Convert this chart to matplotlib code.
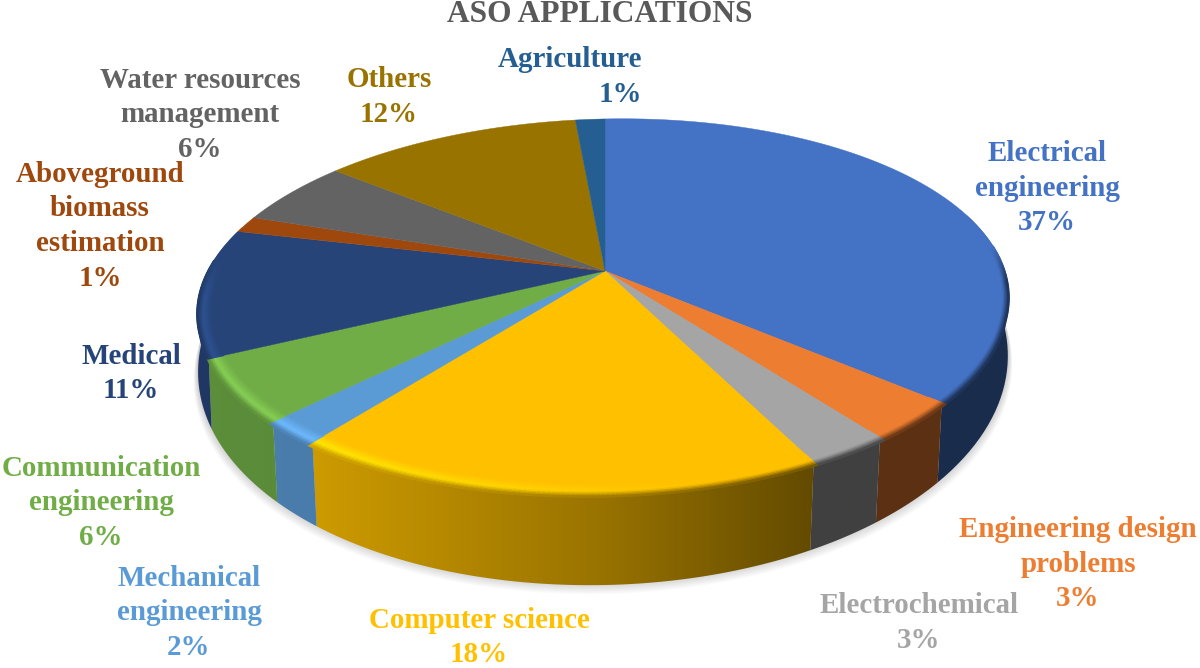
import numpy as np
import matplotlib
matplotlib.use("Agg")
import matplotlib.pyplot as plt
from matplotlib.collections import PolyCollection
from matplotlib.colors import to_rgb
from matplotlib.patches import Polygon

# slices, clockwise from 12 o'clock
categories = ["Electrical engineering", "Engineering design problems", "Electrochemical",
              "Computer science", "Mechanical engineering", "Communication engineering",
              "Medical", "Aboveground biomass estimation", "Water resources management",
              "Others", "Agriculture"]
values = [36.7, 3.3, 2.8, 17.9, 2.1, 5.5, 11.1, 1.4, 5.6, 12.2, 1.4]
colors = ["#4472C4", "#ED7D31", "#A5A5A5", "#FFC000", "#5B9BD5", "#70AD47",
          "#264478", "#9E480E", "#636363", "#997300", "#255E91"]

# label text broken in lines, with centre x and first line y in pixels
label_lines = [["Electrical", "engineering"], ["Engineering design", "problems"], ["Electrochemical"],
               ["Computer science"], ["Mechanical", "engineering"], ["Communication", "engineering"],
               ["Medical"], ["Aboveground", "biomass", "estimation"], ["Water resources", "management"],
               ["Others"], ["Agriculture"]]
label_x = [1047, 1078, 919, 479, 189, 101, 131, 100, 200, 389, 642]
label_y = [153.5, 529.5, 605.5, 620, 578.5, 468.5, 356.5, 174.5, 80.5, 79.5, 59.5]

# view of the disc
cx, cy = 605, 271
a_left, a_right, b, k, s = 401, 397, 180.5, 0.187, 8
depth0, depth1 = 55, 37


def project(r, ang):
    u = r * np.sin(ang)
    v = r * np.cos(ang)
    w = 1 + k * v
    return cx + np.where(u < 0, a_left, a_right) * u / w, cy + (-b * v - s * u) / w


def project_bottom(ang):
    x, y = project(1.0, ang)
    v = np.cos(ang)
    x = cx + (x - cx) * (1 + 0.018 * np.minimum(v, 0))
    return x, y + depth0 - depth1 * v


def side_shade(x):
    return np.interp(x, [200, 320, 600, 810, 1010], [0.82, 0.8, 0.6, 0.39, 0.39])


def rim_colour(top, x, t, v):
    side = top * side_shade(x)
    bright = np.clip((720 - x) / 400, 0, 1)
    high = top + (np.minimum(top * 1.2, 1) - top) * bright
    if t < 0.6:
        c = top + (high - top) * t / 0.6
    else:
        c = high + (side - high) * (t - 0.6) / 0.4
    strength = np.clip((0.1 - v) / 0.2, 0, 1)
    return top + (c - top) * strength


def rim_radius(t, ang):
    # band sits across the top edge at the front, and closes at the sides
    front = np.clip((-np.cos(ang) - 0.3) / 0.5, 0, 1)
    return (0.965 + 0.035 * t) + 0.015 * t * front


def main():
    fig = plt.figure(figsize=(12, 6.68), dpi=100)
    ax = fig.add_axes([0, 0, 1, 1])

    edges = np.cumsum([0] + values) / sum(values) * 2 * np.pi

    # soft shadow under the front edge
    front = np.linspace(np.pi * 0.42, np.pi * 1.58, 200)
    bx, by = project_bottom(front)
    for o in range(1, 15):
        ax.fill(cx + (bx - cx) * (1 + o * 0.0008), by + o - 5, color="k", alpha=0.014, lw=0, zorder=1)

    # side wall, shaded from left to right
    gx = np.linspace(190, 1020, 400)
    for i, c in enumerate(colors):
        top = np.array(to_rgb(c))
        angs = np.linspace(edges[i], edges[i + 1], 80)
        angs = angs[np.cos(angs) < 0.3]
        if len(angs) < 2:
            continue
        tx, ty = project(1.0, angs)
        bx, by = project_bottom(angs)
        poly = Polygon(np.c_[np.r_[tx, bx[::-1]], np.r_[ty, by[::-1]]], closed=True, transform=ax.transData)
        shade = np.array([top * side_shade(x) for x in gx])[None, :, :]
        im = ax.imshow(shade, extent=(190, 1020, 600, 200), aspect="auto", interpolation="bilinear", zorder=2)
        im.set_clip_path(poly)

    # top face
    for i, c in enumerate(colors):
        angs = np.linspace(edges[i], edges[i + 1], 80)
        x, y = project(1.0, angs)
        ax.fill(np.r_[cx, x], np.r_[cy, y], color=c, lw=0.3, zorder=3)

    # bevel along the rim
    quads, cols = [], []
    ts = np.linspace(0, 1, 11)
    for i, c in enumerate(colors):
        top = np.array(to_rgb(c))
        steps = max(int((edges[i + 1] - edges[i]) / 0.01), 2)
        angs = np.linspace(edges[i], edges[i + 1], steps + 1)
        for a0, a1 in zip(angs[:-1], angs[1:]):
            if np.cos(a0) > 0.1:
                continue
            for j in range(len(ts) - 1):
                x0, y0 = project(rim_radius(ts[j], a0), a0)
                x1, y1 = project(rim_radius(ts[j], a1), a1)
                x2, y2 = project(rim_radius(ts[j + 1], a1), a1)
                x3, y3 = project(rim_radius(ts[j + 1], a0), a0)
                quads.append([(x0, y0), (x1, y1), (x2, y2), (x3, y3)])
                cols.append(rim_colour(top, (x0 + x1) / 2, (ts[j] + ts[j + 1]) / 2, np.cos(a0)))
    ax.add_collection(PolyCollection(quads, facecolors=cols, edgecolors=cols, linewidths=0.9, zorder=4))

    # labels
    font = dict(family="Liberation Serif", fontweight="bold", zorder=5)
    for i, lines in enumerate(label_lines):
        rows = lines + [f"{values[i]:.0f}%"]
        ha = "right" if categories[i] == "Agriculture" else "center"
        for j, row in enumerate(rows):
            ax.text(label_x[i], label_y[i] + j * 34.5, row, color=colors[i], ha=ha, va="center",
                    fontsize=20.9, **font)

    ax.text(600, 22, "ASO APPLICATIONS", color="#595959", ha="center", va="baseline", fontsize=22.7, **font)

    ax.set(xlim=(0, 1200), ylim=(668, 0))
    ax.axis("off")
    fig.savefig("out.png", dpi=100)


if __name__ == '__main__':
    main()
